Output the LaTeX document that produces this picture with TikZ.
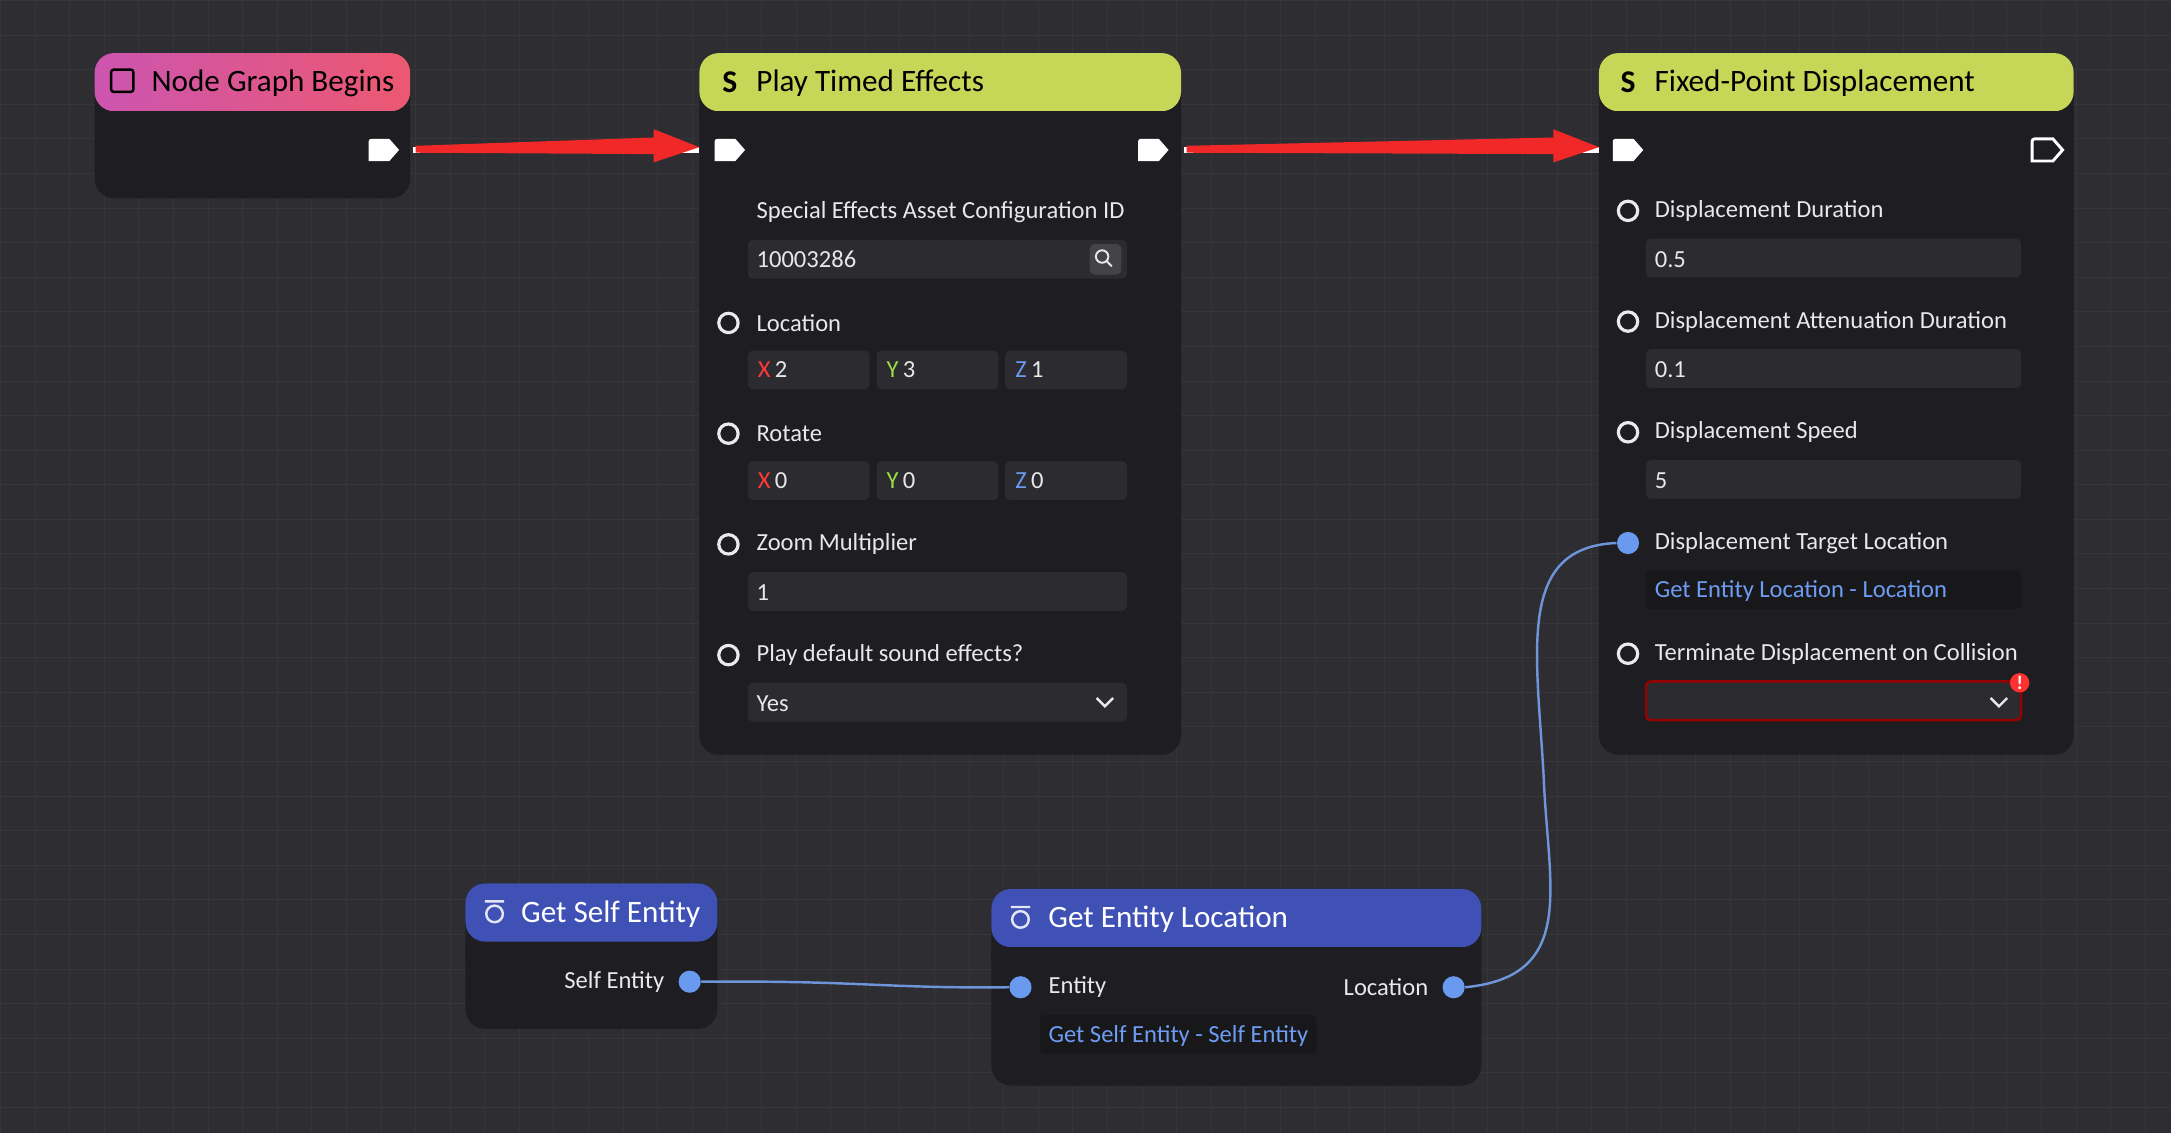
\documentclass[tikz,border=0pt]{standalone}
\usepackage{fontspec}
\setmainfont{Carlito}
\usetikzlibrary{arrows.meta,positioning}
\definecolor{bg}{HTML}{2D2D32}
\definecolor{gridc}{HTML}{35353A}
\definecolor{body}{HTML}{1E1E22}
\definecolor{fieldc}{HTML}{2B2B30}
\definecolor{lime}{HTML}{C6D656}
\definecolor{indigo}{HTML}{3F51B5}
\definecolor{portblue}{HTML}{6A9AF0}
\definecolor{linkblue}{HTML}{6E9CF2}
\definecolor{arrowred}{HTML}{F02828}
\definecolor{txt}{HTML}{E8E8EA}
\definecolor{pinkl}{HTML}{CC55B0}
\definecolor{pinkr}{HTML}{EC5870}
\newcommand\flowport[3]{% x, y, style
  \path[#3] (#1-11,#2-8) -- (#1+4,#2-8) -- (#1+11,#2) -- (#1+4,#2+8) -- (#1-11,#2+8) [rounded corners=1pt] -- cycle;}
\begin{document}
\begin{tikzpicture}[x=0.02cm,y=-0.02cm]
  \tikzset{
    hdr/.style={anchor=west, text=black, font=\fontsize{12.8}{14}\selectfont},
    hdrw/.style={anchor=west, text=white, font=\fontsize{12.8}{14}\selectfont},
    lbl/.style={anchor=west, text=txt, font=\fontsize{10.1}{12}\selectfont, inner sep=0pt},
    field/.style={fill=fieldc, rounded corners=2pt},
    dport/.style={circle, draw=txt!85, line width=1.3pt, minimum size=0.28cm, inner sep=0pt},
    bport/.style={circle, fill=portblue, minimum size=0.32cm, inner sep=0pt},
    card/.style={fill=body, rounded corners=8pt},
    wire/.style={draw=portblue!80!gray, line width=1pt},
  }
  % background and grid
  \fill[bg] (0,0) rectangle (1568,818);
  \draw[gridc, line width=0.4pt] (0,0) grid[step=0.5cm] (1568,818);
  \useasboundingbox (0,0) rectangle (1568,818);

  % Node Graph Begins
  \fill[card] (68,38) rectangle (296,143);
  \shade[left color=pinkl, right color=pinkr, rounded corners=8pt] (68,38) rectangle (296,80);
  \fill[body] (68,80) rectangle (296,90);
  \draw[black, line width=1pt, rounded corners=1pt] (80,50) rectangle (96,66);
  \node[hdr] (ngb) at (103,60) {Node Graph Begins};
  \flowport{277}{108}{fill=white}
  \coordinate (ngbout) at (298,108);

  % Play Timed Effects
  \fill[card] (505,38) rectangle (853,545);
  \fill[lime, rounded corners=8pt] (505,38) rectangle (853,80);
  \fill[body] (505,80) rectangle (853,90);
  \node[black, font=\bfseries\fontsize{13}{14}\selectfont] at (527,59) {S};
  \node[hdr] (pte) at (540,60) {Play Timed Effects};
  \flowport{527}{108}{fill=white}
  \flowport{833}{108}{fill=white}
  \coordinate (ptein) at (505,108);
  \coordinate (pteout) at (855,108);
  \node[lbl] at (546,153) {Special Effects Asset Configuration ID};
  \fill[field] (540,173) rectangle (814,201);
  \node[lbl] at (546,187) {10003286};
  \fill[fieldc!70!gray, rounded corners=2pt] (787,176) rectangle (810,198);
  \draw[txt, line width=0.8pt] (796,185) circle (4.5) (799.5,188.5) -- (803,192);
  \node[dport] at (526,233) {};
  \node[lbl] at (546,233) {Location};
  \foreach \xa/\ax/\col/\v in {540/X/red!70!pink/2, 633/Y/lime!80!green/3, 726/Z/portblue/1}{
    \fill[field] (\xa,253) rectangle (\xa+88,281);
    \node[lbl] at (\xa+7,267) {\textcolor{\col}{\ax}\,\v};
  }
  \node[dport] at (526,313) {};
  \node[lbl] at (546,313) {Rotate};
  \foreach \xa/\ax/\col in {540/X/red!70!pink, 633/Y/lime!80!green, 726/Z/portblue}{
    \fill[field] (\xa,333) rectangle (\xa+88,361);
    \node[lbl] at (\xa+7,347) {\textcolor{\col}{\ax}\,0};
  }
  \node[dport] at (526,393) {};
  \node[lbl] at (546,393) {Zoom Multiplier};
  \fill[field] (540,413) rectangle (814,441);
  \node[lbl] at (546,428) {1};
  \node[dport] at (526,473) {};
  \node[lbl] at (546,473) {Play default sound effects?};
  \fill[field] (540,493) rectangle (814,521);
  \node[lbl] at (546,508) {Yes};
  \draw[txt, line width=1pt] (792,504) -- (798,510) -- (804,504);

  % Fixed-Point Displacement
  \fill[card] (1155,38) rectangle (1498,545);
  \fill[lime, rounded corners=8pt] (1155,38) rectangle (1498,80);
  \fill[body] (1155,80) rectangle (1498,90);
  \node[black, font=\bfseries\fontsize{13}{14}\selectfont] at (1176,59) {S};
  \node[hdr] (fpd) at (1189,60) {Fixed-Point Displacement};
  \flowport{1176}{108}{fill=white}
  \flowport{1479}{108}{draw=white, line width=1.2pt}
  \coordinate (fpdin) at (1155,108);
  \foreach \yy/\name/\val in {152/Displacement Duration/0.5, 232/Displacement Attenuation Duration/0.1, 312/Displacement Speed/5}{
    \node[dport] at (1176,\yy) {};
    \node[lbl] at (1195,\yy) {\name};
    \fill[field] (1189,\yy+20) rectangle (1460,\yy+48);
    \node[lbl] at (1195,\yy+35) {\val};
  }
  \node[bport] (tgt) at (1176,392) {};
  \node[lbl] at (1195,392) {Displacement Target Location};
  \fill[field, fill=body!80!black] (1189,412) rectangle (1460,440);
  \node[lbl, text=linkblue] at (1195,427) {Get Entity Location - Location};
  \node[dport] at (1176,472) {};
  \node[lbl] at (1195,472) {Terminate Displacement on Collision};
  \draw[field, draw=red!60!black, line width=1pt] (1189,492) rectangle (1460,520);
  \draw[txt, line width=1pt] (1438,504) -- (1444,510) -- (1450,504);
  \fill[red!75!pink] (1459,493) circle (7);
  \node[white, font=\bfseries\fontsize{8}{8}\selectfont, inner sep=0pt] at (1459,493) {!};

  % Get Self Entity
  \fill[card] (336,638) rectangle (518,743);
  \fill[indigo, rounded corners=8pt] (336,638) rectangle (518,680);
  \fill[body] (336,680) rectangle (518,690);
  \draw[white!85!indigo, line width=1pt] (357,660) circle (6) (350,651) -- (364,651);
  \node[hdrw] (gse) at (370,660) {Get Self Entity};
  \node[lbl, anchor=east] at (480,709) {Self Entity};
  \node[bport] (self) at (498,709) {};

  % Get Entity Location
  \fill[card] (716,642) rectangle (1070,784);
  \fill[indigo, rounded corners=8pt] (716,642) rectangle (1070,684);
  \fill[body] (716,684) rectangle (1070,694);
  \draw[white!85!indigo, line width=1pt] (737,664) circle (6) (730,655) -- (744,655);
  \node[hdrw] (gel) at (751,664) {Get Entity Location};
  \node[bport] (ent) at (737,713) {};
  \node[lbl] at (757,713) {Entity};
  \node[lbl, anchor=east] at (1032,713) {Location};
  \node[bport] (loc) at (1050,713) {};
  \fill[field, fill=body!80!black] (751,733) rectangle (951,761);
  \node[lbl, text=linkblue] at (757,748) {Get Self Entity - Self Entity};

  % links
  \draw[wire] (self.east) .. controls (620,708) and (640,714) .. (ent.west);
  \draw[wire] (loc.east) .. controls (1140,705) and (1118,640) .. (1115,560)
     .. controls (1110,470) and (1095,395) .. (tgt.west);
  \draw[white, line width=2.5pt] (ngbout) -- (ptein);
  \draw[white, line width=2.5pt] (pteout) -- (fpdin);
  \fill[arrowred] (300,105) -- (472,99) -- (472,93) -- (505,106) -- (472,117) -- (472,111) -- (300,110) -- cycle;
  \fill[arrowred] (857,105) -- (1122,99) -- (1122,93) -- (1155,106) -- (1122,117) -- (1122,111) -- (857,110) -- cycle;
\end{tikzpicture}
\end{document}
